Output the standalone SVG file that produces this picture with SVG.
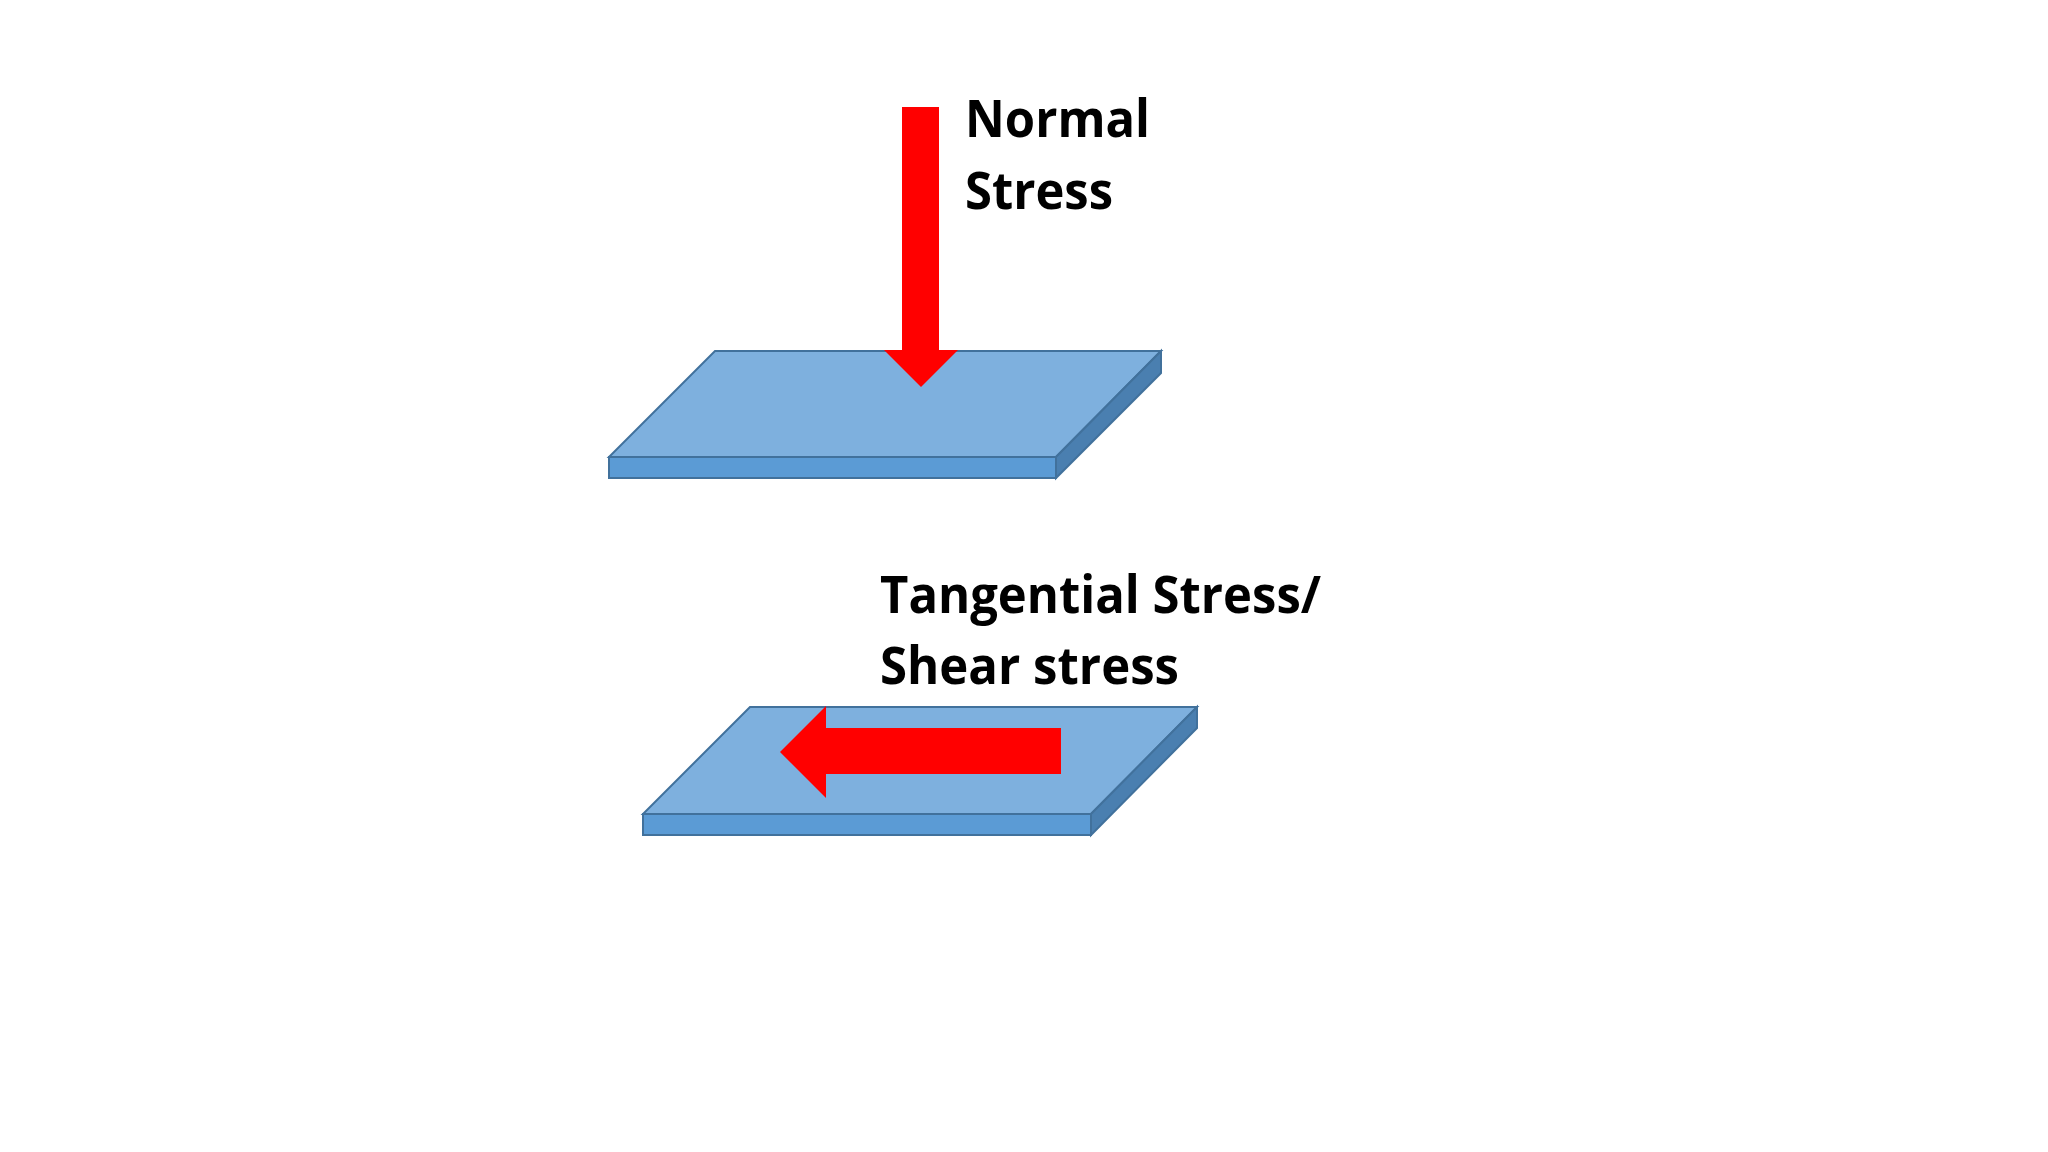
<svg xmlns="http://www.w3.org/2000/svg" width="2048" height="1152" viewBox="0 0 2048 1152">
<style>
.top{fill:#7eb0de;stroke:#41719c;stroke-width:2}
.front{fill:#5b9bd5;stroke:#41719c;stroke-width:2}
.side{fill:#4a7fb0;stroke:#41719c;stroke-width:2}
.arr{fill:#ff0000}
text{font-family:"Open Sans","Liberation Sans",sans-serif;font-weight:bold;font-size:52px;fill:#000}
</style>
<rect width="2048" height="1152" fill="#fff"/>
<g id="plate1">
<polygon class="top" points="715,351 1161,351 1056,457 609,457"/>
<polygon class="front" points="609,457 1056,457 1056,478 609,478"/>
<polygon class="side" points="1161,351 1161,373 1056,478 1056,457"/>
</g>
<g id="plate2">
<polygon class="top" points="750,707 1197,707 1091,814 643,814"/>
<polygon class="front" points="643,814 1091,814 1091,835 643,835"/>
<polygon class="side" points="1197,707 1197,728 1091,835 1091,814"/>
</g>
<g id="connectors">
<polygon class="arr" points="902,107 939,107 939,350 958,350 921,387 884,350 902,350"/>
<polygon class="arr" points="1061,728 1061,774 826,774 826,798 780,752 826,706 826,728"/>
</g>
<g id="labels">
<text x="965" y="137" textLength="185" lengthAdjust="spacingAndGlyphs">Normal</text>
<text x="965" y="209" textLength="148" lengthAdjust="spacingAndGlyphs">Stress</text>
<text x="880" y="613" textLength="441" lengthAdjust="spacingAndGlyphs">Tangential Stress/</text>
<text x="880" y="684" textLength="299" lengthAdjust="spacingAndGlyphs">Shear stress</text>
</g>
</svg>
